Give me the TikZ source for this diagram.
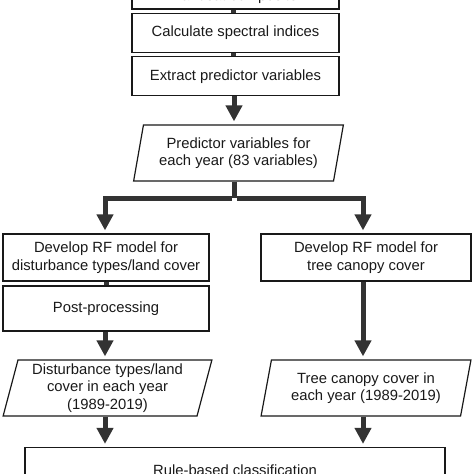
\documentclass[tikz,border=0pt]{standalone}
\usepackage{fontspec}
\setmainfont{Liberation Sans}
\usepackage{tikz}
\usetikzlibrary{shapes.geometric,arrows.meta,positioning,calc}

\begin{document}
\begin{tikzpicture}[
    x=1pt, y=-1pt,
    stepbox/.style={rectangle, draw=black!90, line width=1.2pt, minimum width=207pt, minimum height=39pt, align=center, text=black!90, font=\fontsize{14.8}{17.5}\selectfont},
    databox/.style={trapezium, trapezium left angle=76, trapezium right angle=104, trapezium stretches=true, draw=black!90, line width=1.2pt, minimum width=210pt, minimum height=56pt, align=center, inner sep=1pt, text=black!90, font=\fontsize{14.8}{17.5}\selectfont},
    link/.style={line width=5pt, black!80},
    flow/.style={-{Triangle[width=16pt,length=16pt]}, line width=5pt, black!80, shorten >=3pt}
]
    \clip (0,0) rectangle (474,474);
    \useasboundingbox (0,0) rectangle (474,474);

    % Nodes
    \node[stepbox, minimum height=24pt] (land) at (235.5,-3) {Landsat composite};
    \node[stepbox] (calc) at (235.5,32.8) {Calculate spectral indices};
    \node[stepbox] (extr) at (235.5,76.3) {Extract predictor variables};
    \node[databox] (pred) at (238.5,153) {Predictor variables for\\each year (83 variables)};
    \node[stepbox, minimum width=206pt, minimum height=47pt] (devL) at (106,257.5) {Develop RF model for\\disturbance types/land cover};
    \node[stepbox, minimum width=210pt, minimum height=47pt] (devR) at (366,257.5) {Develop RF model for\\tree canopy cover};
    \node[stepbox, minimum width=206pt, minimum height=45pt] (post) at (106,308.5) {Post-processing};
    \node[databox, minimum width=209pt] (distL) at (107.5,388) {Disturbance types/land\\cover in each year\\(1989-2019)};
    \node[databox] (treeR) at (366,388) {Tree canopy cover in\\each year (1989-2019)};
    \node[stepbox, minimum width=420pt, minimum height=45pt] (rule) at (235,470) {Rule-based classification};
    \coordinate (split) at (234,198);

    % Short links between stacked steps
    \draw[link] ([xshift=-2.5pt]land.south) -- ([xshift=-2.5pt]calc.north);
    \draw[link] ([xshift=-2.5pt]calc.south) -- ([xshift=-2.5pt]extr.north);
    \draw[link] (devL) -- (post);

    % Arrows
    \draw[flow] (extr.south -| split) -- (split |- pred.north);
    \draw[link] (pred.south -| split) -- (split);
    \draw[flow] ([xshift=-2.5pt]split) -| ([xshift=-1pt]devL.north);
    \draw[flow] ([xshift=2.5pt]split) -| ([xshift=-3pt]devR.north);
    \draw[flow] ([xshift=-1pt]post.south) -- ([xshift=-1pt]post.south |- distL.north);
    \draw[flow] ([xshift=-3pt]devR.south) -- ([xshift=-3pt]devR.south |- treeR.north);
    \draw[flow] ([xshift=-2.5pt]distL.south) -- ([xshift=-2.5pt]distL.south |- rule.north);
    \draw[flow] ([xshift=-3pt]treeR.south) -- ([xshift=-3pt]treeR.south |- rule.north);
\end{tikzpicture}
\end{document}
